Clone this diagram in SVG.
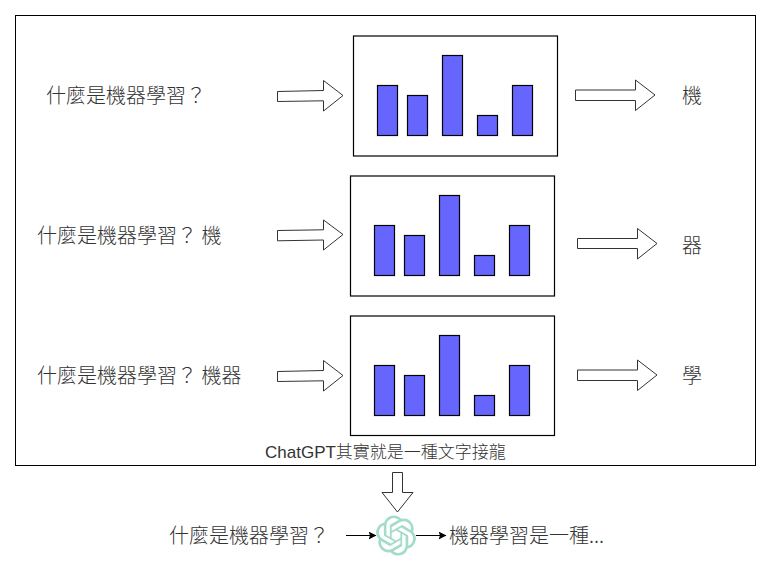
<svg xmlns="http://www.w3.org/2000/svg" width="771" height="571" viewBox="0 0 771 571">
<style>
text{font-family:"Noto Sans CJK TC","Noto Sans CJK SC",sans-serif;font-size:20px;fill:#333;font-weight:300}
.cap{font-size:17px;font-family:"Liberation Sans","Noto Sans CJK TC",sans-serif}
.box{fill:#fff;stroke:#000;stroke-width:1.2}
.bar{fill:#6666ff;stroke:#000;stroke-width:1.2}
.arr{fill:#fff;stroke:#333;stroke-width:1}
.ln{stroke:#000;stroke-width:1;fill:none;marker-end:url(#h)}
</style>
<defs>
<marker id="h" markerUnits="userSpaceOnUse" markerWidth="8" markerHeight="8" refX="7.5" refY="4" orient="auto"><path d="M0 0L8 4L0 8L1.5 4Z" fill="#000"/></marker>
<g id="bars">
<rect class="bar" x="0" y="30" width="20" height="50"/>
<rect class="bar" x="30" y="40" width="20" height="40"/>
<rect class="bar" x="65" y="0" width="20" height="80"/>
<rect class="bar" x="100" y="60" width="20" height="20"/>
<rect class="bar" x="135" y="30" width="20" height="50"/>
</g>
</defs>
<rect id="frame" x="15.500" y="15.500" width="740" height="450" fill="#fff" stroke="#000" stroke-width="1"/>
<g id="model1"><rect class="box" x="353.500" y="36" width="204" height="120"/><use href="#bars" x="377.500" y="55.500"/></g>
<g id="model2"><rect class="box" x="350.500" y="176" width="204" height="120"/><use href="#bars" x="374.500" y="195.500"/></g>
<g id="model3"><rect class="box" x="350.500" y="316" width="204" height="119.500"/><use href="#bars" x="374.500" y="335.500"/></g>
<g id="connectors">
<path class="arr" d="M277.500 91.500L323.500 90.500V80.500L343 95.500L323.500 111V100.800L277.500 101.500Z"/>
<path class="arr" d="M277.500 230.500L323.500 229.800V220L343 234.500L323.500 250V240L277.500 240.800Z"/>
<path class="arr" d="M277.500 371.500L323.500 370.500V360.500L343 375.500L323.500 391V380.800L277.500 381.500Z"/>
<path class="arr" d="M575.500 90H635.500V80L655 95L635.500 110.500V100.500H575.500Z"/>
<path class="arr" d="M577.500 238.500H637.500V228.500L657 243.500L637.500 259V248.500H577.500Z"/>
<path class="arr" d="M577.500 370H637.500V360L657 375L637.500 390.500V380.500H577.500Z"/>
<path class="arr" d="M392.500 472.500H402.500V492.500H413L397.500 512L382 492.500H392.500Z"/>
<path class="ln" d="M346 535.500H376"/>
<path class="ln" d="M416 535.500H446"/>
</g>
<g id="q1"><text x="46" y="103">什麼是機器學習？</text></g>
<g id="q2"><text x="37" y="243">什麼是機器學習？ 機</text></g>
<g id="q3"><text x="37" y="383">什麼是機器學習？ 機器</text></g>
<g id="a1"><text x="682" y="103">機</text></g>
<g id="a2"><text x="682" y="253">器</text></g>
<g id="a3"><text x="682" y="383">學</text></g>
<g id="caption"><text class="cap" x="265" y="458">ChatGPT其實就是一種文字接龍</text></g>
<g id="q4"><text x="169" y="543">什麼是機器學習？</text></g>
<g id="a4"><text x="449" y="543">機器學習是一種...</text></g>
<g id="logo"><path transform="translate(376 515.500) scale(1.667)" fill="#a3dcc8" d="M22.2819 9.8211a5.9847 5.9847 0 0 0-.5157-4.9108 6.0462 6.0462 0 0 0-6.5098-2.9A6.0651 6.0651 0 0 0 4.9807 4.1818a5.9847 5.9847 0 0 0-3.9977 2.9 6.0462 6.0462 0 0 0 .7427 7.0966 5.98 5.98 0 0 0 .511 4.9107 6.051 6.051 0 0 0 6.5146 2.9001A5.9847 5.9847 0 0 0 13.2599 24a6.0557 6.0557 0 0 0 5.7718-4.2058 5.9894 5.9894 0 0 0 3.9977-2.9001 6.0557 6.0557 0 0 0-.7475-7.0729zm-9.022 12.6081a4.4755 4.4755 0 0 1-2.8764-1.0408l.1419-.0804 4.7783-2.7582a.7948.7948 0 0 0 .3927-.6813v-6.7369l2.02 1.1686a.071.071 0 0 1 .038.052v5.5826a4.504 4.504 0 0 1-4.4945 4.4944zm-9.6607-4.1254a4.4708 4.4708 0 0 1-.5346-3.0137l.142.0852 4.783 2.7582a.7712.7712 0 0 0 .7806 0l5.8428-3.3685v2.3324a.0804.0804 0 0 1-.0332.0615L9.74 19.9502a4.4992 4.4992 0 0 1-6.1408-1.6464zM2.3408 7.8956a4.485 4.485 0 0 1 2.3655-1.9728V11.6a.7664.7664 0 0 0 .3879.6765l5.8144 3.3543-2.0201 1.1685a.0757.0757 0 0 1-.071 0l-4.8303-2.7865A4.504 4.504 0 0 1 2.3408 7.872zm16.5963 3.8558L13.1038 8.364 15.1192 7.2a.0757.0757 0 0 1 .071 0l4.8303 2.7913a4.4944 4.4944 0 0 1-.6765 8.1042v-5.6772a.79.79 0 0 0-.407-.667zm2.0107-3.0231l-.142-.0852-4.7735-2.7818a.7759.7759 0 0 0-.7854 0L9.409 9.2297V6.8974a.0662.0662 0 0 1 .0284-.0615l4.8303-2.7866a4.4992 4.4992 0 0 1 6.6802 4.66zM8.3065 12.863l-2.02-1.1638a.0804.0804 0 0 1-.038-.0567V6.0742a4.4992 4.4992 0 0 1 7.3757-3.4537l-.142.0805L8.704 5.459a.7948.7948 0 0 0-.3927.6813zm1.0976-2.3654l2.602-1.4998 2.6069 1.4998v2.9994l-2.5974 1.4997-2.6067-1.4997Z"/></g>
</svg>
